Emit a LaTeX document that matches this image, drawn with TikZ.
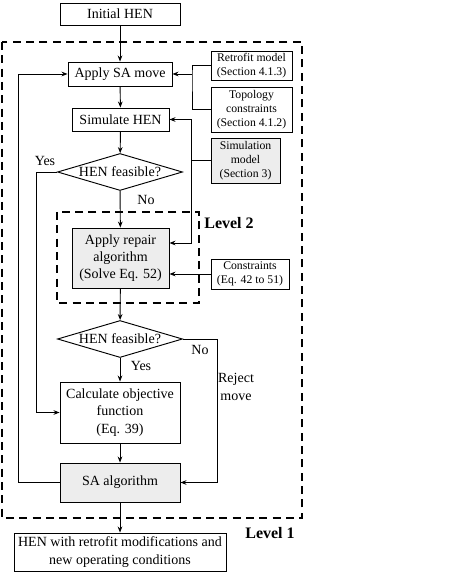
\documentclass[tikz,border=0pt]{standalone}
\usepackage{fontspec}
\setmainfont{Liberation Serif}
\usetikzlibrary{arrows.meta,positioning,shapes.geometric}
\definecolor{boxgray}{HTML}{EDEDED}

\begin{document}
\begin{tikzpicture}[x=0.75pt,y=-0.75pt,>={Stealth[length=4.5pt,width=3.5pt]},
 box/.style={draw,line width=0.7pt,align=center,inner sep=1pt,font=\fontsize{10.5}{13}\selectfont},
 smallbox/.style={box,font=\fontsize{8.8}{10.5}\selectfont},
 decision/.style={draw,line width=0.7pt,diamond,aspect=3.4,inner sep=0pt,minimum width=93.75pt,minimum height=27.75pt,font=\fontsize{10.5}{13}\selectfont},
 level/.style={draw,line width=1.6pt,dash pattern=on 6pt off 4pt},
 lab/.style={font=\fontsize{10.5}{13}\selectfont},
 levlab/.style={font=\bfseries\fontsize{12}{14}\selectfont},
 flow/.style={->,line width=0.7pt},
 wire/.style={line width=0.7pt}]
\useasboundingbox (0,0) rectangle (474,573);
% level frames
\draw[level] (2,42) rectangle (302,518);
\draw[level] (57,212) rectangle (199,303);
\node[levlab] (lev2) at (229,223) {Level 2};
\node[levlab] (lev1) at (270,533) {Level 1};
% main column
\node[box,minimum width=90pt,minimum height=16.5pt] (init) at (120,14) {Initial HEN};
\node[box,minimum width=78pt,minimum height=18pt] (move) at (120,74) {Apply SA move};
\node[box,minimum width=72.75pt,minimum height=17.25pt] (sim) at (120.5,119.5) {Simulate HEN};
\node[decision] (feas1) at (120,172) {HEN feasible?};
\node[box,fill=boxgray,minimum width=72.75pt,minimum height=45pt] (repair) at (120.5,258) {Apply repair\\algorithm\\(Solve Eq. 52)};
\node[decision] (feas2) at (120,339) {HEN feasible?};
\node[box,minimum width=90pt,minimum height=45.75pt] (obj) at (120,412.5) {Calculate objective\\function\\(Eq. 39)};
\node[box,fill=boxgray,minimum width=90pt,minimum height=29.25pt] (saalg) at (120,482.5) {SA algorithm};
\node[box,minimum width=159pt,minimum height=28.5pt] (out) at (120,552) {HEN with retrofit modifications and\\new operating conditions};
% side inputs
\node[smallbox,minimum width=60.75pt,minimum height=21.75pt] (retro) at (251.5,65.5) {Retrofit model\\(Section 4.1.3)};
\node[smallbox,minimum width=60.75pt,minimum height=33.75pt] (topo) at (251.5,109.5) {Topology\\constraints\\(Section 4.1.2)};
\node[smallbox,fill=boxgray,minimum width=51.75pt,minimum height=33.75pt] (simmod) at (245.5,160.5) {Simulation\\model\\(Section 3)};
\node[smallbox,minimum width=58.5pt,minimum height=22.5pt] (cons) at (250,274) {Constraints\\(Eq. 42 to 51)};
% branch labels
\node[lab] (yes1) at (45,161) {Yes};
\node[lab] (no1) at (146,200) {No};
\node[lab] (no2) at (200,350) {No};
\node[lab] (yes2) at (141,366) {Yes};
\node[lab,align=center] (reject) at (236,387) {Reject\\move};
% bend points
\coordinate (join1) at (192,74);
\coordinate (join2) at (191,160.5);
\coordinate (yesleft) at (36,172);
\coordinate (noright) at (217,339);
\coordinate (backleft) at (18,482.5);
% connectors
\draw[flow] (init) -- (move);
\draw[flow] (move) -- (sim);
\draw[flow] (sim) -- (feas1);
\draw[flow] (feas1) -- (repair);
\draw[flow] (repair) -- (feas2);
\draw[flow] (feas2) -- (obj);
\draw[flow] (obj) -- (saalg);
\draw[flow] (saalg) -- (out);
\draw[wire] (retro.west) -| (join1) |- (topo.west);
\draw[flow] (join1) -- (move.east);
\draw[wire] (simmod.west) -- (join2);
\draw[flow] (join2) |- (sim.east);
\draw[flow] (join2) |- ([yshift=11.25pt]repair.east);
\draw[flow] (cons.west) -- (cons.west -| repair.east);
\draw[flow] (feas1.west) -- (yesleft) |- (obj.west);
\draw[flow] (feas2.east) -- (noright) |- (saalg.east);
\draw[flow] (saalg.west) -- (backleft) |- (move.west);
\end{tikzpicture}
\end{document}
